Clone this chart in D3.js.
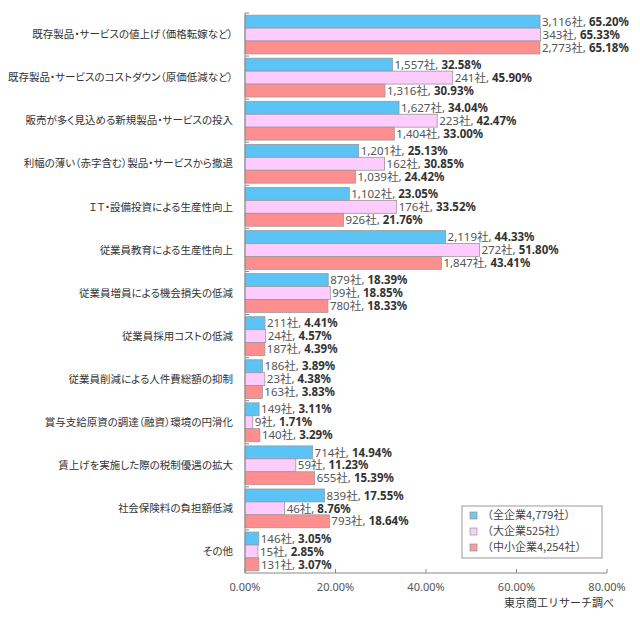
<!DOCTYPE html>
<html>
<head>
<meta charset="utf-8">
<script src="https://cdn.jsdelivr.net/npm/d3@7"></script>
<style>
  body { margin: 0; background: #fff; }
  svg { display: block; }
  .cat { font-family: "Noto Sans CJK JP", sans-serif; font-size: 10.5px; fill: #333; font-feature-settings: "palt"; }
  .val { font-family: "Noto Sans", "Noto Sans CJK JP", sans-serif; font-size: 11.5px; fill: #555; }
  .val tspan.pct { font-weight: bold; fill: #333; }
  .tick-label { font-family: "Noto Sans", sans-serif; font-size: 11px; fill: #555; }
</style>
</head>
<body>
<div id="chart"></div>
<script>
// カテゴリ
const categories = [
  "既存製品・サービスの値上げ（価格転嫁など）",
  "既存製品・サービスのコストダウン（原価低減など）",
  "販売が多く見込める新規製品・サービスの投入",
  "利幅の薄い（赤字含む）製品・サービスから撤退",
  "ＩＴ・設備投資による生産性向上",
  "従業員教育による生産性向上",
  "従業員増員による機会損失の低減",
  "従業員採用コストの低減",
  "従業員削減による人件費総額の抑制",
  "賞与支給原資の調達（融資）環境の円滑化",
  "賃上げを実施した際の税制優遇の拡大",
  "社会保険料の負担額低減",
  "その他"
];

const seriesNames = ["（全企業4,779社）", "（大企業525社）", "（中小企業4,254社）"];

// 社数
const allCount   = [3116, 1557, 1627, 1201, 1102, 2119, 879, 211, 186, 149, 714, 839, 146];
const largeCount = [343, 241, 223, 162, 176, 272, 99, 24, 23, 9, 59, 46, 15];
const smallCount = [2773, 1316, 1404, 1039, 926, 1847, 780, 187, 163, 140, 655, 793, 131];

// 構成比 (%)
const allPct   = [65.20, 32.58, 34.04, 25.13, 23.05, 44.33, 18.39, 4.41, 3.89, 3.11, 14.94, 17.55, 3.05];
const largePct = [65.33, 45.90, 42.47, 30.85, 33.52, 51.80, 18.85, 4.57, 4.38, 1.71, 11.23, 8.76, 2.85];
const smallPct = [65.18, 30.93, 33.00, 24.42, 21.76, 43.41, 18.33, 4.39, 3.83, 3.29, 15.39, 18.64, 3.07];

const xTicks = [0, 20, 40, 60, 80];

const colors = ["#5cc3f7", "#ffccff", "#ff8f8f"];
const legendColors = ["#7cc6ea", "#f5d2f5", "#f0a0a0"];

const counts = [allCount, largeCount, smallCount];
const pcts = [allPct, largePct, smallPct];

const W = 640, H = 618;
const margin = { top: 13, right: 33, bottom: 45, left: 245 };
const width = W - margin.left - margin.right;
const height = H - margin.top - margin.bottom;

const svg = d3.select("#chart").append("svg")
  .attr("width", W).attr("height", H);

const g = svg.append("g")
  .attr("transform", `translate(${margin.left},${margin.top})`);

const x = d3.scaleLinear().domain([0, 80]).range([0, width]);
const y = d3.scaleBand().domain(categories).range([0, height]).paddingInner(0.1).paddingOuter(0.05);
const ySub = d3.scaleBand().domain([0, 1, 2]).range([0, y.bandwidth()]);

// バー
const groups = g.selectAll(".grp")
  .data(categories)
  .enter().append("g")
  .attr("class", "grp")
  .attr("transform", d => `translate(0,${y(d)})`);

groups.each(function(cat, i) {
  const grp = d3.select(this);
  [0, 1, 2].forEach(s => {
    grp.append("rect")
      .attr("x", 0)
      .attr("y", ySub(s))
      .attr("width", x(pcts[s][i]))
      .attr("height", ySub.bandwidth())
      .attr("fill", colors[s])
      .attr("stroke", "#999")
      .attr("stroke-width", 0.8);

    const t = grp.append("text")
      .attr("class", "val")
      .attr("x", x(pcts[s][i]) + 2)
      .attr("y", ySub(s) + ySub.bandwidth() / 2)
      .attr("dy", "0.36em");
    t.append("tspan").text(d3.format(",")(counts[s][i]) + "社, ");
    t.append("tspan").attr("class", "pct").text(pcts[s][i].toFixed(2) + "%");
  });
});

// カテゴリラベル
g.selectAll(".cat")
  .data(categories)
  .enter().append("text")
  .attr("class", "cat")
  .attr("x", -12)
  .attr("y", d => y(d) + y.bandwidth() / 2)
  .attr("dy", "0.35em")
  .attr("text-anchor", "end")
  .text(d => d);

// 縦軸
const bounds = d3.range(categories.length + 1).map(i => i * height / categories.length);
g.append("line")
  .attr("x1", 0).attr("x2", 0).attr("y1", 0).attr("y2", height)
  .attr("stroke", "#888");
g.selectAll(".ytick")
  .data(bounds.slice(0, -1))
  .enter().append("line")
  .attr("x1", 0).attr("x2", 4)
  .attr("y1", d => d).attr("y2", d => d)
  .attr("stroke", "#888");

// 横軸
g.append("line")
  .attr("x1", 0).attr("x2", width).attr("y1", height).attr("y2", height)
  .attr("stroke", "#888");
g.selectAll(".xtick")
  .data(xTicks)
  .enter().append("line")
  .attr("x1", d => x(d)).attr("x2", d => x(d))
  .attr("y1", height).attr("y2", height - 4)
  .attr("stroke", "#888");
g.selectAll(".tick-label")
  .data(xTicks)
  .enter().append("text")
  .attr("class", "tick-label")
  .attr("x", d => x(d))
  .attr("y", height + 18)
  .attr("text-anchor", "middle")
  .text(d => d.toFixed(2) + "%");

// 出典
svg.append("text")
  .attr("x", 614)
  .attr("y", 607)
  .attr("text-anchor", "end")
  .style("font-family", "'Noto Sans CJK JP', sans-serif")
  .style("font-size", "11px")
  .style("fill", "#333")
  .text("東京商工リサーチ調べ");

// 凡例
const lg = svg.append("g").attr("transform", "translate(462,506)");
lg.append("rect")
  .attr("width", 140).attr("height", 52)
  .attr("fill", "#fff").attr("stroke", "#999");
seriesNames.forEach((name, s) => {
  lg.append("rect")
    .attr("x", 8).attr("y", 6 + s * 16)
    .attr("width", 7).attr("height", 7)
    .attr("fill", legendColors[s]).attr("stroke", "#888").attr("stroke-width", 0.6);
  lg.append("text")
    .attr("x", 20).attr("y", 9.5 + s * 16)
    .attr("dy", "0.35em")
    .style("font-family", "'Noto Sans CJK JP', sans-serif")
    .style("font-size", "11px")
    .style("fill", "#444")
    .text(name);
});
</script>
</body>
</html>
